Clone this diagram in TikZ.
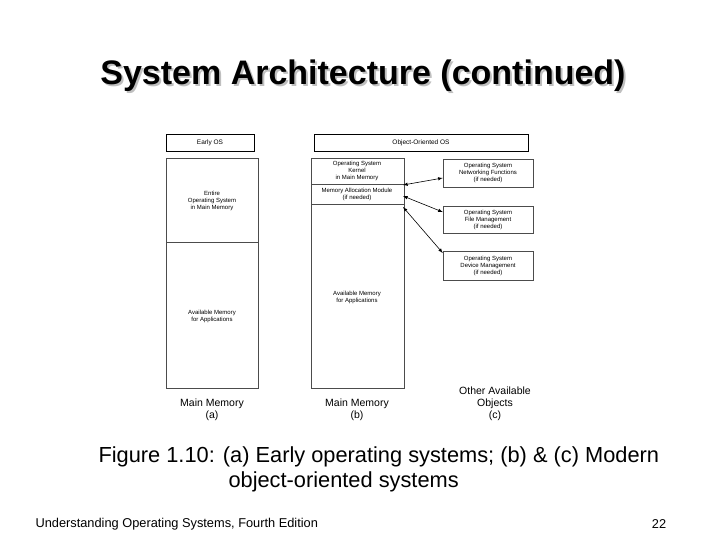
\documentclass[tikz,border=0pt]{standalone}
\usepackage{fontspec}
\setmainfont{Liberation Sans}
\begin{document}
\begin{tikzpicture}[x=1pt,y=-1pt,
  bx/.style={draw=black!70,line width=0.5pt,fill=white},
  hd/.style={draw=black,line width=0.8pt,fill=white,font=\fontsize{6.5}{7.5}\selectfont},
  sm/.style={font=\fontsize{6}{7}\selectfont,align=center},
  lb/.style={font=\fontsize{10.5}{12}\selectfont,align=center},
  arr/.style={<->,>=latex,line width=0.6pt}]
\useasboundingbox (0,0) rectangle (728,546);
\node[font=\bfseries\fontsize{34}{38}\selectfont,text=black!25] at (365,78) {System Architecture (continued)};
\node (title) [font=\bfseries\fontsize{34}{38}\selectfont] at (363,76) {System Architecture (continued)};
% headers
\node (hA) [hd,minimum width=88pt,minimum height=17pt] at (210,143) {Early OS};
\node (hB) [hd,minimum width=214pt,minimum height=17pt] at (421,143) {Object-Oriented OS};
% column a
\draw[bx] (166,158) rectangle (258,388);
\draw[black!70,line width=0.5pt] (166,242) -- (258,242);
\node (aOS) [sm] at (212,201) {Entire\\Operating System\\in Main Memory};
\node (aMem) [sm] at (212,316) {Available Memory\\for Applications};
% column b
\draw[bx] (311,158) rectangle (404,388);
\draw[black!70,line width=0.5pt] (311,184) -- (404,184) (311,204) -- (404,204);
\node (kern) [sm] at (357,171) {Operating System\\Kernel\\in Main Memory};
\node (mam) [sm] at (357,194) {Memory Allocation Module\\(if needed)};
\node (bMem) [sm] at (357,297) {Available Memory\\for Applications};
\coordinate (p1) at (403,185);
\coordinate (p2) at (403,196);
\coordinate (p3) at (403,207);
% right boxes
\node (net) [bx,sm,minimum width=90pt,minimum height=28pt] at (488,173) {Operating System\\Networking Functions\\(if needed)};
\node (file) [bx,sm,minimum width=90pt,minimum height=27pt] at (488,220) {Operating System\\File Management\\(if needed)};
\node (dev) [bx,sm,minimum width=90pt,minimum height=29pt] at (488,266) {Operating System\\Device Management\\(if needed)};
\draw[arr] (p1) -- (net.west|-0,178);
\draw[arr] (p2) -- (file.west|-0,212);
\draw[arr] (p3) -- (dev.west|-0,253);
% labels
\node (la) [lb] at (212,410) {Main Memory\\(a)};
\node (lbb) [lb] at (357,410) {Main Memory\\(b)};
\node (lc) [lb] at (495,404) {Other Available\\Objects\\(c)};
% caption
\node (cap) [font=\fontsize{21.8}{25}\selectfont,anchor=west] at (95,457) {Figure 1.10: (a) Early operating systems; (b) \& (c) Modern};
\node (cap2) [font=\fontsize{21.8}{25}\selectfont,anchor=west] at (225,482) {object-oriented systems};
\node (foot) [font=\fontsize{12.8}{15}\selectfont,anchor=west] at (32,524) {Understanding Operating Systems, Fourth Edition};
\node (pg) [font=\fontsize{12.8}{15}\selectfont] at (659,524) {22};
\end{tikzpicture}
\end{document}
